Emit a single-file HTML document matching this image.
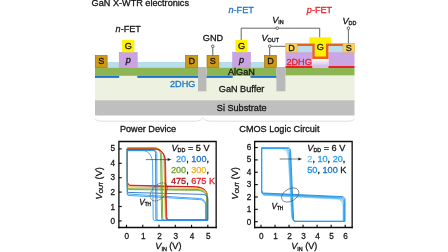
<!DOCTYPE html>
<html><head><meta charset="utf-8"><title>GaN X-WTR electronics</title>
<style>
html,body{margin:0;padding:0;background:#fff;}
body{width:448px;height:252px;overflow:hidden;}
svg{display:block;font-family:"Liberation Sans",sans-serif;}
svg{fill:#151515;}
text{stroke:#151515;stroke-width:0.3px;paint-order:stroke;}
.t9{font-size:9.15px;}
.t8{font-size:8.2px;}
.t8 text{stroke-width:0.26px;}
.sub{font-size:5.4px;}
.i{font-style:italic;}
</style></head><body>
<svg width="448" height="252" viewBox="0 0 448 252">
<rect width="448" height="252" fill="#fff"/>
<defs>
<linearGradient id="gp" x1="0" y1="0" x2="0" y2="1"><stop offset="0" stop-color="#ffffff"/><stop offset="1" stop-color="#cdb2e6"/></linearGradient>
</defs>
<!-- device layers -->
<g shape-rendering="auto">
<rect x="95" y="100" width="259.5" height="15.5" fill="#bfbfbf"/>
<rect x="95" y="75.5" width="259.5" height="24.8" fill="#edf2e0"/>
<rect x="95" y="67.4" width="103" height="8.4" fill="#8eb553"/>
<rect x="206.5" y="67.4" width="70" height="8.4" fill="#8eb553"/>
<rect x="285.4" y="67.6" width="69.1" height="7.8" fill="#8eb553"/>
<rect x="198" y="67" width="8.4" height="24.3" fill="#b9b9b9"/>
<rect x="276.4" y="67" width="9" height="24.3" fill="#b9b9b9"/>
<!-- 2DHG / 2DEG lines -->
<g fill="#1f74c9"><rect x="95" y="75.8" width="24.2" height="2.1"/><rect x="137.3" y="75.8" width="60.7" height="2.1"/><rect x="206.5" y="75.8" width="26.2" height="2.1"/><rect x="250.5" y="75.8" width="25.9" height="2.1"/></g>
<!-- n-FET 1 -->
<rect x="107" y="62" width="78.5" height="5.4" fill="#b7deea"/>
<rect x="95.3" y="55.5" width="11.8" height="11.8" fill="#cf9817" stroke="#9a7410" stroke-width="0.7"/>
<rect x="185.6" y="55.5" width="12.1" height="11.8" fill="#cf9817" stroke="#9a7410" stroke-width="0.7"/>
<rect x="119.2" y="52.3" width="18" height="15.1" fill="#caa3e3" stroke="#b891d6" stroke-width="0.5"/>
<rect x="122.1" y="39.8" width="12.2" height="12.5" fill="#fff200"/>
<!-- n-FET 2 -->
<rect x="218.5" y="62" width="46" height="5.4" fill="#b7deea"/>
<rect x="207" y="55.5" width="11.8" height="11.8" fill="#cf9817" stroke="#9a7410" stroke-width="0.7"/>
<rect x="264.5" y="55.5" width="11.8" height="11.8" fill="#cf9817" stroke="#9a7410" stroke-width="0.7"/>
<rect x="232.7" y="52.2" width="17.8" height="15.2" fill="#caa3e3" stroke="#b891d6" stroke-width="0.5"/>
<rect x="235.5" y="40" width="12" height="12.2" fill="#fff200"/>
<!-- p-FET -->
<rect x="285.5" y="52" width="26.8" height="14.2" fill="#cba6e4"/>
<rect x="328.4" y="52" width="26.1" height="14.2" fill="#cba6e4"/>
<rect x="312.3" y="58.8" width="16.1" height="8.6" fill="url(#gp)"/>
<rect x="297" y="45.8" width="15.3" height="6.4" fill="#b7deea"/>
<rect x="328.4" y="45.8" width="14.8" height="6.4" fill="#b7deea"/>
<rect x="285.5" y="66" width="26.8" height="2" fill="#ea2027"/>
<rect x="328.4" y="66" width="26.1" height="2" fill="#ea2027"/>
<path d="M309.3 37.2H331V43.6H326V56.9H314.7V43.6H309.3Z" fill="#fff200"/>
<path d="M297 44.8H313.5V57.8H327.2V44.8H343" fill="none" stroke="#e9611b" stroke-width="2.5"/>
<rect x="285.8" y="43.4" width="11.3" height="8.7" fill="#fbd25e" stroke="#f2b23a" stroke-width="0.7"/>
<rect x="343.1" y="43.4" width="11.3" height="8.7" fill="#fbd25e" stroke="#f2b23a" stroke-width="0.7"/>
</g>
<!-- wires -->
<g fill="none" stroke="#333" stroke-width="0.75">
<path d="M212.8 47.6V55.5"/><circle cx="212.8" cy="46.3" r="1.3" fill="#fff"/>
<path d="M241.2 40V28.2H276M278.6 28.2H319.7V37.2"/><circle cx="277.3" cy="28.2" r="1.3" fill="#fff"/>
<path d="M269.7 47.6V55.5M271 46.3H285.5"/><circle cx="269.7" cy="46.3" r="1.3" fill="#fff"/>
<path d="M348.4 29.5V43.4"/><circle cx="348.4" cy="28.2" r="1.3" fill="#fff"/>
</g>
<!-- braces -->
<path d="M95 118.6Q96 121.2 101 121.2H196Q201.5 121.2 203 117.6Q204.5 121.2 210 121.2H348Q353.5 121.2 354.5 118.6" fill="none" stroke="#d2d2d2" stroke-width="0.7"/>
<!-- device text -->
<g class="t9">
<text x="91.6" y="6.4">GaN X-WTR electronics</text>
<text x="115.6" y="32.3"><tspan class="i">n</tspan>-FET</text>
<text x="228.5" y="13" style="fill:#1f74c9;stroke:#1f74c9"><tspan class="i">n</tspan>-FET</text>
<text x="306.8" y="13" style="fill:#ea2027;stroke:#ea2027"><tspan class="i">p</tspan>-FET</text>
<text x="128.3" y="49.4" text-anchor="middle">G</text>
<text x="128.3" y="62.6" text-anchor="middle" class="i">p</text>
<text x="101.3" y="64.1" text-anchor="middle">S</text>
<text x="191.7" y="64.1" text-anchor="middle">D</text>
<text x="212.9" y="64.1" text-anchor="middle">S</text>
<text x="270.5" y="64.1" text-anchor="middle">D</text>
<text x="241.5" y="49.3" text-anchor="middle">G</text>
<text x="241.6" y="62.6" text-anchor="middle" class="i">p</text>
<text x="291.5" y="51" text-anchor="middle">D</text>
<text x="348.8" y="51" text-anchor="middle">S</text>
<text x="320.3" y="50" text-anchor="middle">G</text>
<text x="202.8" y="40.5">GND</text>
<text x="272.2" y="22.8"><tspan class="i">V</tspan><tspan class="sub" dy="1.2">IN</tspan></text>
<text x="261.5" y="40.5"><tspan class="i">V</tspan><tspan class="sub" dy="1.2">OUT</tspan></text>
<text x="342.4" y="24"><tspan class="i">V</tspan><tspan class="sub" dy="1.2">DD</tspan></text>
<text x="170" y="87" style="fill:#1f74c9;stroke:#1f74c9">2DHG</text>
<text x="286.4" y="65" style="fill:#ea2027;stroke:#ea2027">2DHG</text>
<text x="228" y="75.3">AlGaN</text>
<text x="218.8" y="91.6">GaN Buffer</text>
<text x="216.8" y="111.2">Si Substrate</text>
<text x="119.9" y="132.1">Power Device</text>
<text x="239.3" y="132.4">CMOS Logic Circuit</text>
</g>
<!-- left plot -->
<g>
<path d="M127.3 149.3 L127.3 179.98 Q127.3 185.1 130.5 185.2 L195.6 186.7 C202.5 186.9 207.1 190.3 207.1 195.7 L207.1 220.3" stroke="#e11a22" stroke-width="0.85" fill="none" stroke-linejoin="round"/>
<path d="M127.3 149 L127.3 180.48 Q127.3 185.6 130.5 185.7 L195.4 187 C202.6 187.2 207.4 190.6 207.4 196 L207.4 220.3" stroke="#ae0f18" stroke-width="0.85" fill="none" stroke-linejoin="round"/>
<path d="M127.3 148.6 L127.3 183.06 Q127.3 186.9 129.7 187 L196.7 188.3 C203.3 188.5 207.7 191.7 207.7 196.8 L207.7 220.3" stroke="#f5aa18" stroke-width="0.85" fill="none" stroke-linejoin="round"/>
<path d="M127.3 148.2 L127.3 185.72 Q127.3 188.6 129.1 188.7 L197.1 189.5 C203.1 189.7 207.1 192.7 207.1 197.5 L207.1 220.3" stroke="#5fa126" stroke-width="0.85" fill="none" stroke-linejoin="round"/>
<path d="M127.3 148.2 L127.3 186.62 Q127.3 189.5 129.1 189.6 L196.9 190.3 C202.9 190.5 206.9 193.5 206.9 198.3 L206.9 220.3" stroke="#5fa126" stroke-width="0.85" fill="none" stroke-linejoin="round"/>
<path d="M127.3 149 L127.3 191.02 Q127.3 192.3 128.1 192.4 L202.9 194.4 C205.9 194.6 207.9 196.6 207.9 199.9 L207.9 220.3" stroke="#1b68c2" stroke-width="0.85" fill="none" stroke-linejoin="round"/>
<path d="M127.3 149 L127.3 192.94 Q127.3 193.9 127.9 194 L199.5 198.5 C203.4 198.7 206 201.3 206 205.5 L206 220.3" stroke="#2796f3" stroke-width="0.85" fill="none" stroke-linejoin="round"/>
<path d="M127.3 149 L127.3 194.34 Q127.3 195.3 127.9 195.4 L199.7 199.6 C203.3 199.8 205.7 202.2 205.7 206.1 L205.7 220.3" stroke="#2796f3" stroke-width="0.85" fill="none" stroke-linejoin="round"/>
<path d="M127.3 147.9 L154.6 147.9 C158.2 147.9 160.6 151.1 160.6 155.9 L161.6 218.2 Q161.6 220.3 163.1 220.3 L208 220.3" stroke="#5fa126" stroke-width="0.85" fill="none" stroke-linejoin="round"/>
<path d="M127.3 148 L155.7 148 C159.3 148 161.7 151.2 161.7 156 L162.7 218.2 Q162.7 220.3 164.2 220.3 L208 220.3" stroke="#5fa126" stroke-width="0.85" fill="none" stroke-linejoin="round"/>
<path d="M127.3 148.4 L155.8 148.4 C160.6 148.4 163.8 152.4 163.8 158.4 L165.3 217.3 Q165.3 220.1 167.3 220.1 L208 220.1" stroke="#f5aa18" stroke-width="0.85" fill="none" stroke-linejoin="round"/>
<path d="M127.3 148.9 L154.9 148.9 C160.9 148.9 164.9 153.7 164.9 160.9 L166.1 216.6 Q166.1 220.1 168.6 220.1 L208 220.1" stroke="#ae0f18" stroke-width="0.85" fill="none" stroke-linejoin="round"/>
<path d="M127.3 149.5 L155.5 149.5 C161.5 149.5 165.5 154.3 165.5 161.5 L166.7 216.6 Q166.7 220.1 169.2 220.1 L208 220.1" stroke="#e11a22" stroke-width="0.85" fill="none" stroke-linejoin="round"/>
<path d="M127.3 150.1 L152.6 150.1 C154.4 150.1 155.6 151.5 155.6 153.6 L155.9 218.72 Q155.9 220.4 157.1 220.4 L208 220.4" stroke="#1b68c2" stroke-width="0.85" fill="none" stroke-linejoin="round"/>
<path d="M127.3 150.7 L143.6 150.7 C148.55 150.7 152.6 156.55 152.6 163.7 L153.2 218.72 Q153.2 220.4 154.4 220.4 L208 220.4" stroke="#2796f3" stroke-width="0.85" fill="none" stroke-linejoin="round"/>
<path d="M127.3 150.5 L154.3 150.5 C155.8 150.5 156.8 151.7 156.8 153.5 L157.1 218.72 Q157.1 220.4 158.3 220.4 L208 220.4" stroke="#2796f3" stroke-width="0.85" fill="none" stroke-linejoin="round"/>
<ellipse cx="158.8" cy="191.9" rx="10.6" ry="6.6" transform="rotate(-48 158.8 191.9)" fill="none" stroke="#444" stroke-width="0.7" stroke-dasharray="1.7 0.8"/>
<path d="M145.8 159.6H169" stroke="#222" stroke-width="0.6" fill="none"/><path d="M171.4 159.6L167.6 158.1V161.1Z" fill="#222"/>
<path d="M118.9 228.25V141.5H216.15V228.25" fill="none" stroke="#0c0c0c" stroke-width="1.3"/><path d="M118.25 227.45H216.8" fill="none" stroke="#0c0c0c" stroke-width="1.6"/>
<g stroke="#0c0c0c" stroke-width="1.15" fill="none"><path d="M126.5 227.4V224.8"/><path d="M118.9 220.9H121.7"/><path d="M142.76 227.4V224.8"/><path d="M118.9 206.5H121.7"/><path d="M159.02 227.4V224.8"/><path d="M118.9 192.1H121.7"/><path d="M175.28 227.4V224.8"/><path d="M118.9 177.7H121.7"/><path d="M191.54 227.4V224.8"/><path d="M118.9 163.3H121.7"/><path d="M207.8 227.4V224.8"/><path d="M118.9 148.9H121.7"/></g>
<g class="t8"><text x="126.9" y="239" text-anchor="middle">0</text><text x="115" y="224.35" text-anchor="end">0</text><text x="143.16" y="239" text-anchor="middle">1</text><text x="115" y="209.71" text-anchor="end">1</text><text x="159.42" y="239" text-anchor="middle">2</text><text x="115" y="195.07" text-anchor="end">2</text><text x="175.68" y="239" text-anchor="middle">3</text><text x="115" y="180.43" text-anchor="end">3</text><text x="191.94" y="239" text-anchor="middle">4</text><text x="115" y="165.79" text-anchor="end">4</text><text x="208.2" y="239" text-anchor="middle">5</text><text x="115" y="151.15" text-anchor="end">5</text></g>
<g class="t9">
<text x="171.5" y="151.1"><tspan class="i">V</tspan><tspan class="sub" dy="1.2">DD</tspan><tspan dy="-1.2"> = 5 V</tspan></text>
<text x="176" y="162.2"><tspan style="fill:#2f9df4;stroke:#2f9df4">20</tspan>, <tspan style="fill:#1f6fc6;stroke:#1f6fc6">100</tspan>,</text>
<text x="170.9" y="173"><tspan style="fill:#6aa52e;stroke:#6aa52e">200</tspan>, <tspan style="fill:#f6b21a;stroke:#f6b21a">300</tspan>,</text>
<text x="170.9" y="184"><tspan style="fill:#b5121b;stroke:#b5121b">475</tspan>, <tspan style="fill:#e8242b;stroke:#e8242b">675 K</tspan></text>
<text x="155.3" y="249.4"><tspan class="i">V</tspan><tspan class="sub" dy="1.2">IN</tspan><tspan dy="-1.2"> (V)</tspan></text>
<text transform="translate(101.6 199.4) rotate(-90)"><tspan class="i">V</tspan><tspan class="sub" dy="1.2">OUT</tspan><tspan dy="-1.2"> (V)</tspan></text>
</g>
<text x="139.2" y="204.7" style="font-size:8.2px"><tspan class="i">V</tspan><tspan style="font-size:4.6px" dy="1">TH</tspan></text>
</g>
<!-- right plot -->
<g>
<path d="M261.6 147.9 L288.4 147.9 C289.72 147.9 290.6 149.02 290.6 150.7 L293.6 220 Q293.6 221.4 294.6 221.4 L345 221.4" stroke="#1a7fd6" stroke-width="0.85" fill="none" stroke-linejoin="round"/>
<path d="M261.6 147.9 L261.6 190.5 Q261.6 192.9 263.1 193 L342 196.6 C343.8 196.8 345 197.92 345 199.9 L345 221.4" stroke="#1a7fd6" stroke-width="0.85" fill="none" stroke-linejoin="round"/>
<path d="M261.6 148.7 L280.4 148.7 C285.2 148.7 288.4 152.7 288.4 158.7 L291.4 213 Q291.4 221.4 297.4 221.4 L345 221.4" stroke="#8fd0f8" stroke-width="0.85" fill="none" stroke-linejoin="round"/>
<path d="M261.6 147.9 L261.6 189.7 Q261.6 195.3 265.1 195.4 L336 199 C340.2 199.2 343 202.08 343 206.7 L343 221.4" stroke="#8fd0f8" stroke-width="0.85" fill="none" stroke-linejoin="round"/>
<path d="M261.6 148.5 L282.95 148.5 C286.55 148.5 288.95 151.7 288.95 156.5 L291.95 215.1 Q291.95 221.4 296.45 221.4 L345 221.4" stroke="#52b7f5" stroke-width="0.85" fill="none" stroke-linejoin="round"/>
<path d="M261.6 147.9 L261.6 189.9 Q261.6 194.7 264.6 194.8 L337.5 198.4 C341.1 198.6 343.5 201.04 343.5 205 L343.5 221.4" stroke="#52b7f5" stroke-width="0.85" fill="none" stroke-linejoin="round"/>
<path d="M261.6 148.1 L287.05 148.1 C288.85 148.1 290.05 149.7 290.05 152.1 L293.05 218.6 Q293.05 221.4 295.05 221.4 L345 221.4" stroke="#1e92e8" stroke-width="0.85" fill="none" stroke-linejoin="round"/>
<path d="M261.6 147.9 L261.6 190.3 Q261.6 193.5 263.6 193.6 L340.5 197.2 C342.9 197.4 344.5 198.96 344.5 201.6 L344.5 221.4" stroke="#1e92e8" stroke-width="0.85" fill="none" stroke-linejoin="round"/>
<path d="M261.6 148.3 L285 148.3 C287.7 148.3 289.5 150.5 289.5 153.8 L292.5 217.2 Q292.5 221.4 295.5 221.4 L345 221.4" stroke="#2ba2f0" stroke-width="0.85" fill="none" stroke-linejoin="round"/>
<path d="M261.6 147.9 L261.6 190.1 Q261.6 194.1 264.1 194.2 L339 197.8 C342 198 344 200 344 203.3 L344 221.4" stroke="#2ba2f0" stroke-width="0.85" fill="none" stroke-linejoin="round"/>
<ellipse cx="290.2" cy="195" rx="9.4" ry="6.1" transform="rotate(-30 290.2 195)" fill="none" stroke="#4a4a4a" stroke-width="0.6"/>
<path d="M279.7 159H299.6" stroke="#222" stroke-width="0.6" fill="none"/><path d="M302 159L298.4 157.6V160.4Z" fill="#222"/>
<path d="M254.65 228.25V141.5H352.15V228.25" fill="none" stroke="#0c0c0c" stroke-width="1.3"/><path d="M254 227.45H352.8" fill="none" stroke="#0c0c0c" stroke-width="1.6"/>
<g stroke="#0c0c0c" stroke-width="1.15" fill="none"><path d="M261 227.4V224.8"/><path d="M254.65 221.7H257.8"/><path d="M275.03 227.4V224.8"/><path d="M254.65 209.34H257.8"/><path d="M289.06 227.4V224.8"/><path d="M254.65 196.98H257.8"/><path d="M303.09 227.4V224.8"/><path d="M254.65 184.62H257.8"/><path d="M317.12 227.4V224.8"/><path d="M254.65 172.26H257.8"/><path d="M331.15 227.4V224.8"/><path d="M254.65 159.9H257.8"/><path d="M345.18 227.4V224.8"/><path d="M254.65 147.54H257.8"/></g>
<g class="t8"><text x="261.4" y="239" text-anchor="middle">0</text><text x="251.2" y="224.55" text-anchor="end">0</text><text x="275.43" y="239" text-anchor="middle">1</text><text x="251.2" y="212.13" text-anchor="end">1</text><text x="289.46" y="239" text-anchor="middle">2</text><text x="251.2" y="199.71" text-anchor="end">2</text><text x="303.49" y="239" text-anchor="middle">3</text><text x="251.2" y="187.29" text-anchor="end">3</text><text x="317.52" y="239" text-anchor="middle">4</text><text x="251.2" y="174.87" text-anchor="end">4</text><text x="331.55" y="239" text-anchor="middle">5</text><text x="251.2" y="162.45" text-anchor="end">5</text><text x="345.58" y="239" text-anchor="middle">6</text><text x="251.2" y="150.03" text-anchor="end">6</text></g>
<g class="t9">
<text x="307.3" y="151.1"><tspan class="i">V</tspan><tspan class="sub" dy="1.2">DD</tspan><tspan dy="-1.2"> = 6 V</tspan></text>
<text x="307.3" y="162.1"><tspan style="fill:#6cc4f7;stroke:#6cc4f7">2</tspan>, <tspan style="fill:#2a9df0;stroke:#2a9df0">10</tspan>, <tspan style="fill:#2a9df0;stroke:#2a9df0">20</tspan>,</text>
<text x="307.3" y="172.9"><tspan style="fill:#1e8fe6;stroke:#1e8fe6">50</tspan>, <tspan style="fill:#1b6fc8;stroke:#1b6fc8">100</tspan> K</text>
<text x="291.2" y="249.4"><tspan class="i">V</tspan><tspan class="sub" dy="1.2">IN</tspan><tspan dy="-1.2"> (V)</tspan></text>
<text transform="translate(237.6 199.4) rotate(-90)"><tspan class="i">V</tspan><tspan class="sub" dy="1.2">OUT</tspan><tspan dy="-1.2"> (V)</tspan></text>
</g>
<text x="271.5" y="208.6" style="font-size:8.2px"><tspan class="i">V</tspan><tspan style="font-size:4.6px" dy="1">TH</tspan></text>
</g>
</svg>
</body></html>
